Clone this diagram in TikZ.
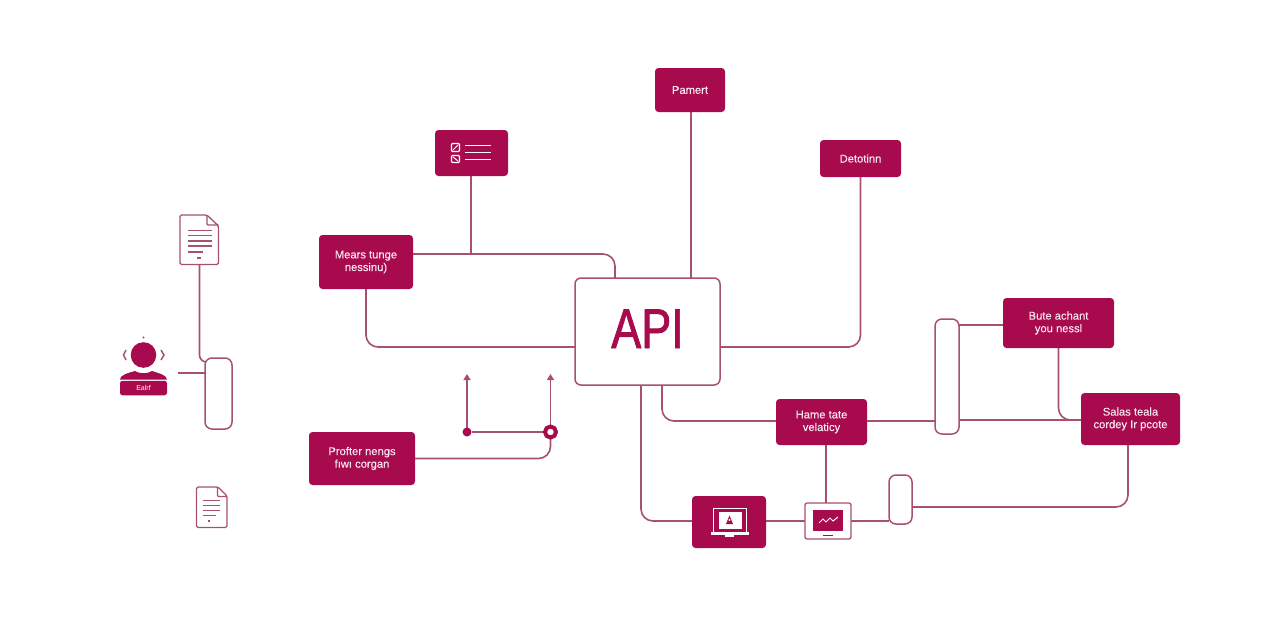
\documentclass[tikz,border=0pt]{standalone}
\usepackage{fontspec}
\setmainfont{Liberation Sans}
\usetikzlibrary{calc,arrows.meta}
\definecolor{wine}{HTML}{A80A4E}
\definecolor{wire}{HTML}{A8506F}
\pgfdeclarelayer{back}\pgfsetlayers{back,main}
\tikzset{
  x=1pt,y=-1pt,
  every node/.style={outer sep=0pt},
  box/.style={fill=wine,rounded corners=3.5pt,inner sep=0pt,text=white,align=center,font=\addfontfeature{FakeBold=.3}\fontsize{11.2}{12.6}\selectfont,text opacity=.88},
  pill/.style={draw=wire,fill=white,line width=1.5pt,rounded corners=7pt,inner sep=0pt},
  apibox/.style={draw=wire,fill=white,line width=1.5pt,rounded corners=6pt,inner sep=0pt,text=wine},
  conn/.style={draw=wire,line width=1.6pt,rounded corners=12pt},
  arrowconn/.style={conn,-{Triangle[length=6pt,width=7pt]}},
  icon/.style={draw=wire,line width=1.3pt,line join=round},
  iconline/.style={draw=wire,line width=1.2pt},
  whiteline/.style={draw=white,line width=1.8pt},
}
\begin{document}
\begin{tikzpicture}
\useasboundingbox (0,0) rectangle (1280,640);
\begin{pgfonlayer}{back}
\fill[white] (0,0) rectangle (1280,640);
\end{pgfonlayer}
% nodes
\node[box,minimum width=70pt,minimum height=44pt] (pament) at (690,90) {Pamert};
\node[box,minimum width=73pt,minimum height=46pt] (check) at (471.5,153) {};
\node[box,minimum width=81pt,minimum height=37pt] (detot) at (860.5,158.5) {Detotinn};
\node[box,minimum width=94pt,minimum height=54pt] (mears) at (366,262) {Mears tunge\\nessinu)};
\node[apibox,minimum width=145pt,minimum height=107pt,font=\addfontfeature{FakeBold=1.6}\fontsize{50}{50}\selectfont] (api) at (647.5,331.5) {\raisebox{5.5pt}{\scalebox{.9}[1.12]{API}}};
\node[box,minimum width=106pt,minimum height=53pt] (proft) at (362,458.5) {Profter nengs\\fıwı corgan};
\node[box,minimum width=91pt,minimum height=46pt] (hame) at (821.5,422) {Hame tate\\velaticy};
\node[box,minimum width=111pt,minimum height=50pt] (bute) at (1058.5,323) {Bute achant\\you nessl};
\node[box,minimum width=99pt,minimum height=52pt] (salas) at (1130.5,419) {Salas teala\\cordey Ir pcote};
\node[box,minimum width=74pt,minimum height=52pt] (laptop) at (729,522) {};
\node[draw=wire,fill=white,line width=1.3pt,rounded corners=2pt,inner sep=0pt,minimum width=46pt,minimum height=36pt] (monitor) at (828,521) {};
\node[pill,minimum width=23pt,minimum height=49pt] (pillS) at (900.5,499.5) {};
\node[pill,minimum width=24pt,minimum height=115pt] (pillT) at (947,376.5) {};
\node[pill,minimum width=27pt,minimum height=71pt] (pillL) at (218.5,393.5) {};
\node[inner sep=0pt,minimum width=39pt,minimum height=50pt] (doc1) at (199.5,240) {};
\node[inner sep=0pt,minimum width=31pt,minimum height=41pt] (doc2) at (211.5,507.5) {};
\node[inner sep=0pt,minimum width=47pt,minimum height=14.5pt,fill=wine,rounded corners=2.5pt,text=white,font=\fontsize{7}{8}\selectfont] (person) at (143.5,388) {Ealrf};
\node[circle,fill=wine,inner sep=0pt,minimum size=9pt] (dot) at (467,432) {};
\node[circle,draw=wine,fill=white,line width=4pt,inner sep=0pt,minimum size=11pt] (ring) at (550.5,432) {};
\coordinate (upA) at (467,374);
\coordinate (upB) at (550.5,374);
% connectors
\begin{pgfonlayer}{back}
\draw[conn,rounded corners=7pt] (doc1.south) -- ($(doc1.south)+(0,97)$) -- ($(pillL.north west)+(0,4)$);
\draw[conn] ($(pillL.north west)+(0,15)$) -- ++(-27,0);
\draw[conn,rounded corners=0pt] ($(check.south)+(-.5,0)$) -- ($(check.south)+(-.5,78)$);
\draw[conn] ($(mears.north east)+(0,19)$) -| ($(api.north west)+(40,0)$);
\draw[conn] (mears.south) |- ($(api.north west)+(0,69)$);
\draw[conn] ($(pament.south)+(1,0)$) -- ($(api.north west)+(116,0)$);
\draw[conn] (detot.south) |- ($(api.north east)+(0,69)$);
\draw[conn] ($(api.south west)+(87,0)$) |- ($(hame.west)+(0,-1)$);
\draw[conn] ($(api.south west)+(66,0)$) |- ($(laptop.west)+(0,-1)$);
\draw[conn] ($(laptop.east)+(0,-1)$) -- (monitor.west);
\draw[conn] ($(hame.south)+(4.5,0)$) -- ($(monitor.north)+(-2,0)$);
\draw[conn] (monitor.east) -- ($(pillS.south west)+(0,-3)$);
\draw[conn] ($(pillS.south east)+(0,-17)$) -| ($(salas.south)+(-2.5,0)$);
\draw[conn] ($(hame.east)+(0,-1)$) -- ($(pillT.south west)+(0,-13)$);
\draw[conn] ($(pillT.south east)+(0,-14)$) -- ($(salas.west)+(0,1)$);
\draw[conn] ($(pillT.north east)+(0,6)$) -- ($(bute.north west)+(0,27)$);
\draw[conn] (bute.south) |- ($(salas.west)+(0,1)$);
\draw[conn] (proft.east) -| (ring.south);
\draw[conn,rounded corners=0pt] (dot.east) -- (ring.west);
\draw[arrowconn,rounded corners=0pt] (dot.north) -- (upA);
\draw[arrowconn,rounded corners=0pt] (ring.north) -- (upB);
\end{pgfonlayer}
% checklist icon
\draw[draw=white,line width=1.1pt,rounded corners=1pt] (451.5,143.5) rectangle (459.5,151.5) (451.5,155.5) rectangle (459.5,162.5);
\draw[draw=white,line width=1pt] (453,150) -- (458,145) (453,157) -- (458,161);
\draw[whiteline] (465,145.5) -- (491,145.5) (465,152.5) -- (491,152.5) (465,159.5) -- (491,159.5);
% doc icon 1
\draw[icon,fill=white,rounded corners=1.5pt] (180,215) -- (207,215) -- (218.5,226) -- (218.5,264.5) -- (180,264.5) -- cycle;
\draw[icon,rounded corners=1pt] (207,215) -- (207,225) -- (218.5,225);
\draw[iconline] (187.5,230.5) -- (212,230.5) (187.5,235.5) -- (212,235.5) (187.5,241) -- (212,241) (187.5,246) -- (212,246) (187.5,252) -- (203,252) (197,258) -- (201,258);
% doc icon 2
\draw[icon,fill=white,rounded corners=1.5pt] (196.5,487) -- (218,487) -- (227,496) -- (227,527.5) -- (196.5,527.5) -- cycle;
\draw[icon,rounded corners=1pt] (217.5,487) -- (217.5,496.5) -- (227,496.5);
\draw[iconline] (202.5,500.5) -- (220,500.5) (202.5,505.5) -- (220,505.5) (202.5,510.5) -- (220,510.5) (202.5,515.5) -- (216,515.5) (208,521) -- (210,521);
% person icon
\fill[wine] (143.5,355) circle (12.8pt);
\fill[wire] (143.5,337.5) circle (1.2pt);
\draw[wire,line width=1.5pt] (126,350) -- (123.5,355) -- (126,360) (161,350) -- (164,355) -- (161,360);
\fill[wine] (120,379.5) .. controls (120,375) and (128,373) .. (135,371) .. controls (139,374) and (148,374) .. (152,371) .. controls (158,373) and (167,375) .. (167,379.5) -- cycle;
% laptop icon
\draw[white,line width=1.2pt] (713.5,532) -- (713.5,508.5) -- (746.5,508.5) -- (746.5,532);
\fill[white] (719,512) rectangle (742,529);
\fill[white] (711,531.5) rectangle (748.5,535);
\fill[white] (725,535) rectangle (734,537);
\fill[wine] (729.5,515.5) -- (733,524) -- (726,524) -- cycle;
\fill[white] (729.5,520) circle (1.2pt);
% monitor icon
\fill[wine] (813,510) rectangle (843,531);
\draw[white,line width=1pt] (819,523) -- (823,519) -- (826,522) -- (830,518) -- (833,521) -- (838,517);
\draw[wine,line width=1.5pt] (823,535.5) -- (833,535.5);
\end{tikzpicture}
\end{document}
